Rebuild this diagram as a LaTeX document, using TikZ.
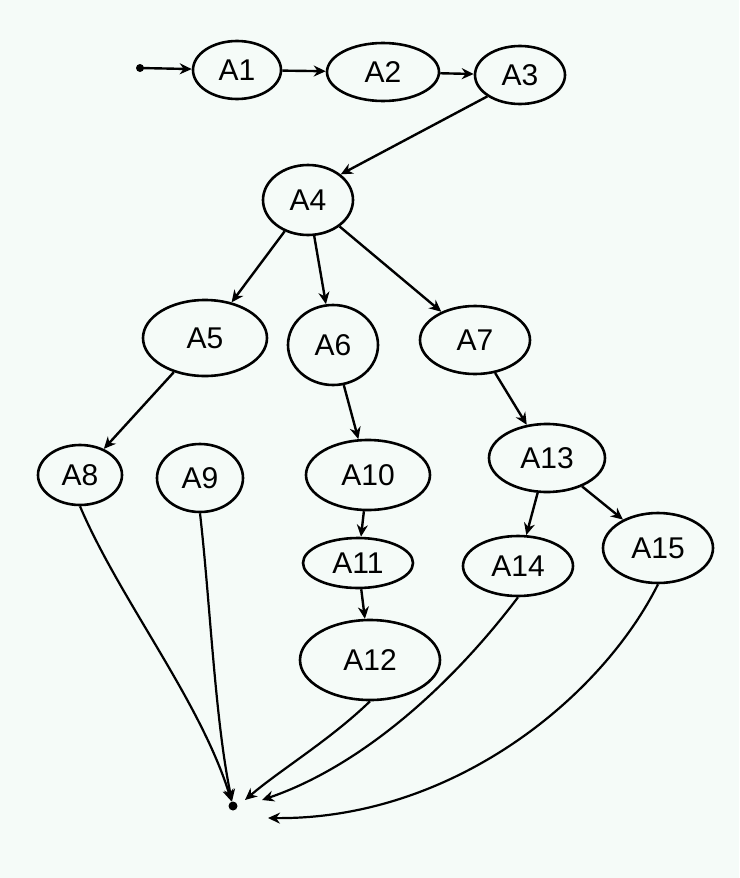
\documentclass[tikz,border=0pt]{standalone}
\usepackage{fontspec}
\setmainfont{Liberation Sans}
\usetikzlibrary{shapes.geometric,arrows.meta}
\definecolor{bg}{HTML}{F5FBF8}
\begin{document}
\begin{tikzpicture}[x=1pt,y=-1pt,
  st/.style={draw,line width=2.6pt,ellipse,inner sep=0pt,font=\fontsize{30}{30}\selectfont},
  ed/.style={line width=2.4pt,-{Stealth[length=12pt,width=11pt]}},
  ln/.style={line width=2.2pt,-{Stealth[length=12pt,width=11pt]}}]
\fill[bg] (0,0) rectangle (739,878);
\useasboundingbox (0,0) rectangle (739,878);
\node[st,minimum width=88pt,minimum height=58pt] (A1) at (237,70) {A1};
\node[st,minimum width=112pt,minimum height=58pt] (A2) at (383,72) {A2};
\node[st,minimum width=90pt,minimum height=58pt] (A3) at (520,75) {A3};
\node[st,minimum width=90pt,minimum height=70pt] (A4) at (308,200) {A4};
\node[st,minimum width=124pt,minimum height=76pt] (A5) at (205,338) {A5};
\node[st,minimum width=90pt,minimum height=80pt] (A6) at (333,345) {A6};
\node[st,minimum width=110pt,minimum height=68pt] (A7) at (475,340) {A7};
\node[st,minimum width=84pt,minimum height=60pt] (A8) at (80,475) {A8};
\node[st,minimum width=86pt,minimum height=68pt] (A9) at (200,478) {A9};
\node[st,minimum width=124pt,minimum height=70pt] (A10) at (368,475) {A10};
\node[st,minimum width=110pt,minimum height=50pt] (A11) at (358,563) {A11};
\node[st,minimum width=140pt,minimum height=80pt] (A12) at (370,660) {A12};
\node[st,minimum width=116pt,minimum height=68pt] (A13) at (547,458) {A13};
\node[st,minimum width=110pt,minimum height=60pt] (A14) at (518,566) {A14};
\node[st,minimum width=110pt,minimum height=70pt] (A15) at (658,548) {A15};
\coordinate (s) at (140,68);
\fill (s) circle (4pt);
\node[circle,fill,inner sep=0pt,minimum size=9pt] (t) at (233,806) {};
\draw[ed] (s) -- (A1);
\draw[ed] (A1) -- (A2);
\draw[ed] (A2) -- (A3);
\draw[ed] (A3.south west) -- (A4.north east);
\draw[ed] (A4) -- (A5);
\draw[ed] (A4) -- (A6);
\draw[ed] (A4) -- (A7);
\draw[ed] (A5) -- (A8);
\draw[ed] (A6) -- (A10);
\draw[ed] (A7) -- (A13);
\draw[ed] (A10) -- (A11);
\draw[ed] (A11) -- (A12);
\draw[ed] (A13) -- (A14);
\draw[ed] (A13) -- (A15);
\draw[ln] (A8.south) .. controls (120,600) and (200,700) .. (t);
\draw[ln] (A9.south) .. controls (210,600) and (215,720) .. (t);
\draw[ln] (A12.south) .. controls (330,740) and (280,770) .. (245,800);
\draw[ln] (A14.south) .. controls (440,700) and (350,770) .. (262,800);
\draw[ln] (A15.south) .. controls (600,700) and (450,820) .. (268,818);
\end{tikzpicture}
\end{document}
